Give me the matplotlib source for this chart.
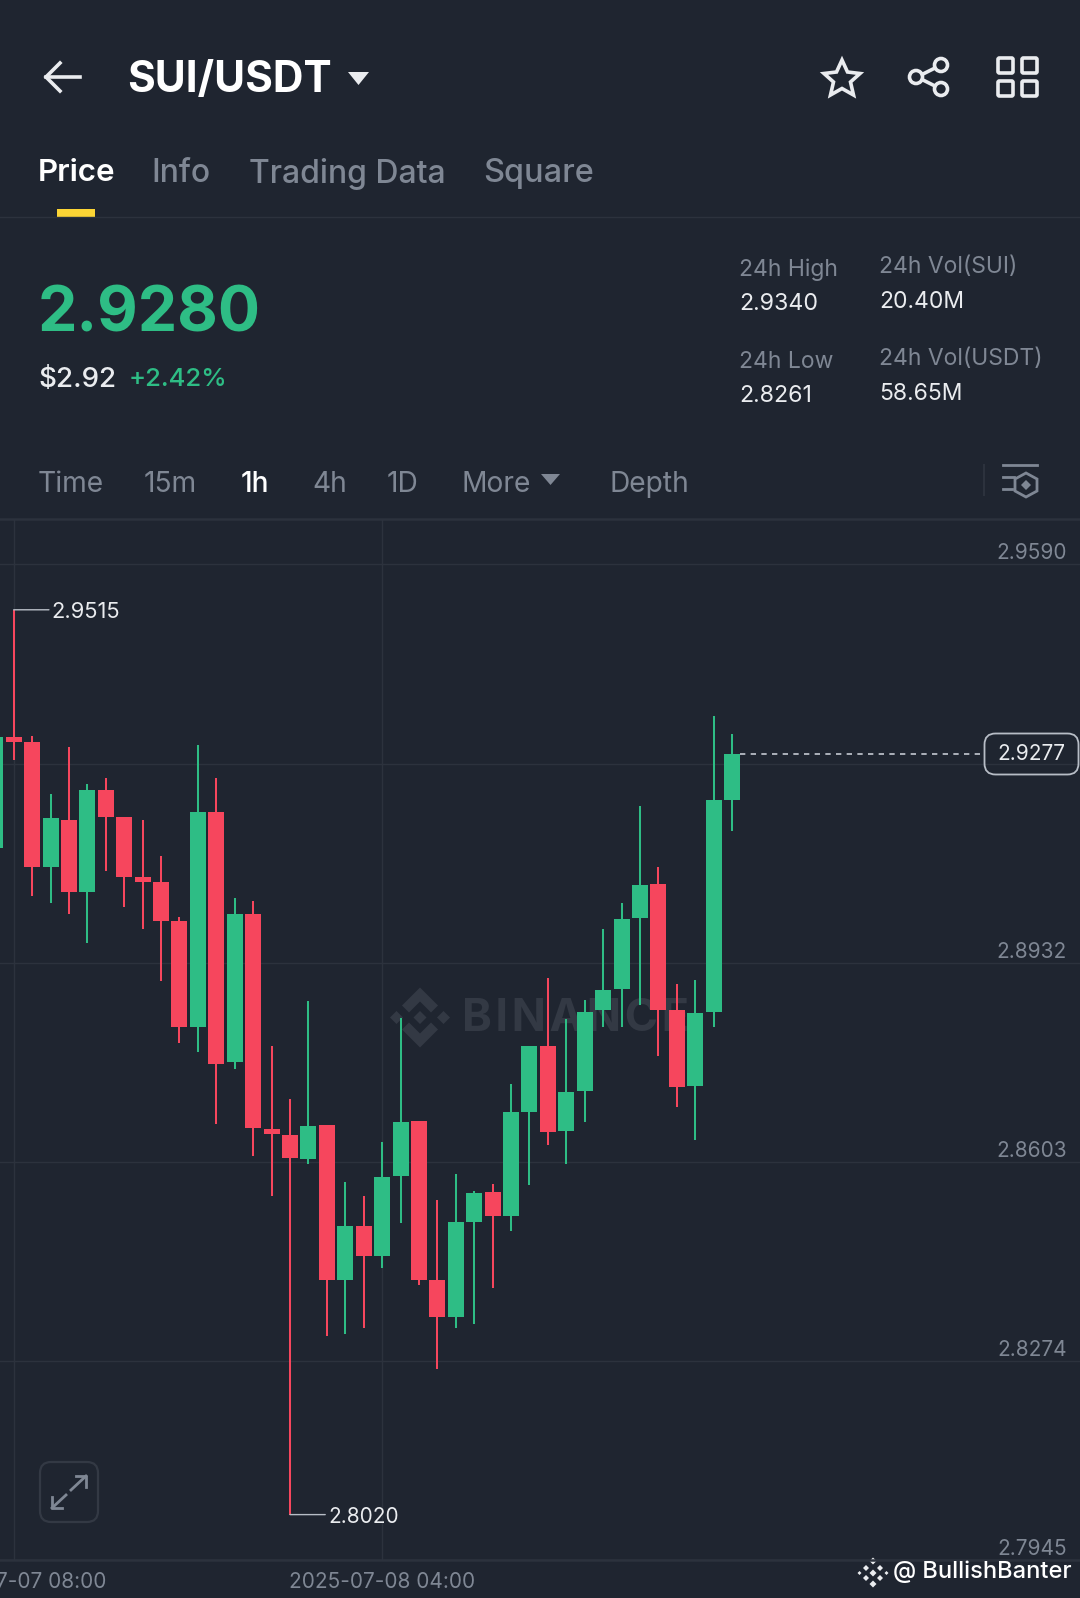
import matplotlib
matplotlib.use("Agg")
import matplotlib.pyplot as plt
from matplotlib.patches import FancyBboxPatch, Polygon, Circle, Rectangle

plt.rcParams['font.family'] = ['Inter', 'DejaVu Sans']

BG = '#1f2530'
GRID = '#2c323d'
GREEN = '#2ebd85'
RED = '#f6465d'
GREY = '#7f8794'
WHITE = '#eaecef'
MARK = '#333944'

# candle values (first candle is cut by the left edge)
opens = [2.9122, 2.9304, 2.9297, 2.9090, 2.9167, 2.9049, 2.9217, 2.9172, 2.9073, 2.9065, 2.9000,
         2.8826, 2.9181, 2.8767, 2.9013, 2.8657, 2.8648, 2.8608, 2.8663, 2.8408, 2.8497, 2.8447,
         2.8580, 2.8670, 2.8408, 2.8347, 2.8504, 2.8553, 2.8514, 2.8685, 2.8794, 2.8653, 2.8720,
         2.8854, 2.8889, 2.9006, 2.9062, 2.8853, 2.8728, 2.8850, 2.9200]
highs = [2.9310, 2.9515, 2.9307, 2.9211, 2.9288, 2.9227, 2.9237, 2.9172, 2.9167, 2.9108, 2.9007,
         2.9292, 2.9237, 2.9039, 2.9034, 2.8794, 2.8707, 2.8869, 2.8663, 2.8569, 2.8546, 2.8636,
         2.8841, 2.8670, 2.8540, 2.8583, 2.8554, 2.8567, 2.8731, 2.8794, 2.8907, 2.8839, 2.8870,
         2.8988, 2.9031, 2.9190, 2.9090, 2.8897, 2.8904, 2.9340, 2.9310]
lows = [2.9100, 2.9266, 2.9042, 2.9031, 2.9013, 2.8965, 2.9083, 2.9024, 2.8987, 2.8901, 2.8800,
        2.8785, 2.8666, 2.8757, 2.8613, 2.8546, 2.8020, 2.8599, 2.8315, 2.8319, 2.8329, 2.8428,
        2.8502, 2.8400, 2.8260, 2.8328, 2.8335, 2.8395, 2.8489, 2.8564, 2.8630, 2.8599, 2.8668,
        2.8826, 2.8825, 2.8862, 2.8777, 2.8693, 2.8639, 2.8826, 2.9150]
closes = [2.9304, 2.9297, 2.9090, 2.9171, 2.9049, 2.9218, 2.9173, 2.9074, 2.9065, 2.9000, 2.8826,
          2.9181, 2.8765, 2.9013, 2.8659, 2.8649, 2.8609, 2.8662, 2.8408, 2.8497, 2.8447, 2.8578,
          2.8669, 2.8407, 2.8347, 2.8504, 2.8552, 2.8513, 2.8685, 2.8794, 2.8652, 2.8719, 2.8851,
          2.8887, 2.9004, 2.9061, 2.8854, 2.8727, 2.8848, 2.9200, 2.9277]

grid_prices = [2.9590, 2.9261, 2.8932, 2.8603, 2.8274, 2.7945]
price_labels = ['2.9590', '', '2.8932', '2.8603', '2.8274', '2.7945']
date_ticks = [1, 21]
date_labels = ['2025-07-07 08:00', '2025-07-08 04:00']
last_price = 2.9277
max_price = 2.9515
min_price = 2.8020

W, H = 1080, 1598
fig = plt.figure(figsize=(W / 100, H / 100), dpi=100, facecolor=BG)

# chart area
ax = fig.add_axes([0, (H - 1560) / H, 1, (1560 - 519) / H], facecolor=BG)
ax.set_xlim(0.256, 58.888)
ax.set_ylim(2.7945, 2.9665)
for s in ax.spines.values():
    s.set_visible(False)
ax.set_yticks(grid_prices)
ax.set_xticks(date_ticks)
ax.tick_params(length=0, labelleft=False, labelbottom=False)
ax.grid(True, color=GRID, lw=1.0)
ax.set_axisbelow(True)

# overlay in pixel coordinates for the app screen around the chart
ui = fig.add_axes([0, 0, 1, 1], facecolor='none')
ui.set_xlim(0, W)
ui.set_ylim(H, 0)
ui.axis('off')

# watermark behind the candles
ax.text(462, 1019, 'B\u200aI\u200aN\u200aA\u200aN\u200aC\u200aE', transform=ui.transData, color=MARK,
        fontsize=32.5, fontweight='bold', va='center', ha='left', zorder=0.5)
lx, ly = 420, 1017.5
logo_parts = [
    [[0, -6.5], [6.5, 0], [0, 6.5], [-6.5, 0]],
    [[-23.5, -6.5], [-17, 0], [-23.5, 6.5], [-30, 0]],
    [[23.5, -6.5], [30, 0], [23.5, 6.5], [17, 0]],
    [[0, -30], [18, -12], [11, -5], [0, -16], [-11, -5], [-18, -12]],
    [[0, 30], [18, 12], [11, 5], [0, 16], [-11, 5], [-18, 12]],
]
for part in logo_parts:
    ax.add_patch(Polygon([[lx + a, ly + b] for a, b in part], transform=ui.transData, fc=MARK, ec='none', zorder=0.5))

for i in range(len(opens)):
    col = GREEN if closes[i] >= opens[i] else RED
    ax.vlines(i, lows[i], highs[i], color=col, lw=1.45, zorder=3)
    ax.bar(i, abs(closes[i] - opens[i]), bottom=min(opens[i], closes[i]), width=0.87, color=col, zorder=3)

for p, lab in zip(grid_prices, price_labels):
    ax.annotate(lab, (1, p), xycoords=('axes fraction', 'data'), xytext=(-13, 1), textcoords='offset pixels',
                ha='right', va='bottom', color=GREY, fontsize=15, annotation_clip=False)
for t, lab in zip(date_ticks, date_labels):
    ax.annotate(lab, (t, 2.7945), xytext=(0, -22), textcoords='offset pixels', ha='center', va='center',
                color=GREY, fontsize=15, annotation_clip=False)

# high / low callouts
imax = highs.index(max_price)
imin = lows.index(min_price)
ax.annotate(f'{max_price:.4f}', (imax, max_price), xytext=(38, -2), textcoords='offset pixels', va='center',
            color=WHITE, fontsize=15.8, arrowprops=dict(arrowstyle='-', color='#b7bdc6', lw=1, shrinkA=0, shrinkB=0,
                                                        relpos=(0, 0.6)))
ax.annotate(f'{min_price:.4f}', (imin, min_price), xytext=(38, -2), textcoords='offset pixels', va='center',
            color=WHITE, fontsize=15, arrowprops=dict(arrowstyle='-', color='#b7bdc6', lw=1, shrinkA=0, shrinkB=0,
                                                      relpos=(0, 0.6)))

# last price line and tag
ax.plot([len(opens) - 1 + 0.45, 53.68], [last_price, last_price], color='#c4c9d1', lw=1.2, ls=(0, (3.2, 3.2)), zorder=2)
ax.annotate(f'{last_price:.4f}', (1, last_price), xycoords=('axes fraction', 'data'), xytext=(-49, 0),
            textcoords='offset pixels', ha='center', va='center', color=WHITE, fontsize=15, zorder=6,
            annotation_clip=False)


def label(x, y, s, color=GREY, size=17, weight='normal', ha='left'):
    ui.text(x, y, s, color=color, fontsize=size, fontweight=weight, ha=ha, va='center_baseline')


def round_box(x0, y0, x1, y1, r, ec, lw=2.0, fc='none', z=5):
    ui.add_patch(FancyBboxPatch((x0 + r, y0 + r), x1 - x0 - 2 * r, y1 - y0 - 2 * r,
                                boxstyle=f'round,pad={r}', ec=ec, fc=fc, lw=lw, zorder=z))


# header
ui.plot([46, 80], [77, 77], color=WHITE, lw=2.6)
ui.plot([60, 46, 60], [63, 77, 91], color=WHITE, lw=2.6, solid_joinstyle='miter')
label(127, 76, 'SUI/USDT', 'white', 30.5, 'bold')
ui.add_patch(Polygon([[348, 72], [369, 72], [358.5, 85]], fc=WHITE, ec='none'))

star = [[842, 60], [847.5, 72], [860, 73.5], [850.5, 82], [853.5, 95], [842, 88.5], [830.5, 95], [833.5, 82], [824, 73.5], [836.5, 72]]
ui.add_patch(Polygon(star, fc='none', ec=WHITE, lw=2.6))
ui.plot([939, 917, 939], [66, 77, 88], color=WHITE, lw=2.6)
for cx, cy in [(941, 65), (916, 77), (941, 89)]:
    ui.add_patch(Circle((cx, cy), 6.5, fc=BG, ec=WHITE, lw=2.6, zorder=4))
for x0, y0 in [(998, 58), (1022, 58), (998, 81), (1022, 81)]:
    round_box(x0, y0, x0 + 15, y0 + 15, 1.5, WHITE, lw=2.6)

# tabs
label(38, 170, 'Price', 'white', 22.6, 'semibold')
label(151, 170, 'Info', GREY, 23, 'medium')
label(249, 170, 'Trading Data', GREY, 23, 'medium')
label(483, 170, 'Square', GREY, 23.4, 'medium')
ui.add_patch(Rectangle((57, 209), 38, 7.5, fc='#fcd535', ec='none'))
ui.plot([0, W], [217, 217], color=GRID, lw=1)

# price block
label(38, 308, '2.9280', GREEN, 45, 'bold')
label(38, 377, '$2.92', WHITE, 20, 'medium')
label(129, 377, '+2.42%', GREEN, 18.5, 'medium')

label(739, 267, '24h High', GREY, 16.5)
label(739, 302, '2.9340', WHITE, 16.7)
label(739, 359, '24h Low', GREY, 16.5)
label(739, 394, '2.8261', WHITE, 16.7)
label(879, 265, '24h Vol(SUI)', GREY, 16.5)
label(879, 300, '20.40M', WHITE, 16.5)
label(879, 356, '24h Vol(USDT)', GREY, 16.5)
label(879, 392, '58.65M', WHITE, 16.5)

# interval row
for x, s in [(38, 'Time'), (144, '15m'), (312, '4h'), (387, '1D'), (462, 'More'), (609, 'Depth')]:
    label(x, 481, s, GREY, 20.3)
label(241, 481, '1h', 'white', 20.3, 'medium')
ui.add_patch(Polygon([[541, 474], [560, 474], [550.5, 485]], fc=GREY, ec='none'))
ui.plot([983.5, 983.5], [465, 495], color=GRID, lw=1.5)
ui.plot([1003, 1037], [465, 465], color=GREY, lw=2)
ui.plot([1003, 1014], [477, 477], color=GREY, lw=2)
ui.plot([1003, 1012], [489, 489], color=GREY, lw=2)
hexagon = [[1026, 473], [1037, 479], [1037, 491], [1026, 497], [1015, 491], [1015, 479]]
ui.add_patch(Polygon(hexagon, fc='none', ec=GREY, lw=2))
ui.add_patch(Polygon([[1026, 480], [1031, 485], [1026, 490], [1021, 485]], fc=GREY, ec='none'))
ui.plot([0, W], [518.5, 518.5], color=GRID, lw=1.8)
ui.plot([0, W], [1560, 1560], color=GRID, lw=1.8)

# last price tag box
round_box(984.5, 733.5, 1078.5, 774.5, 11, '#b7bdc6', lw=1.3)

# expand button
round_box(40, 1462, 98, 1522, 11, '#333944', lw=1.6)
ui.plot([71, 86], [1490, 1476], color=GREY, lw=2)
ui.plot([76, 86, 86], [1476, 1476, 1487], color=GREY, lw=2)
ui.plot([52, 66], [1508, 1495], color=GREY, lw=2)
ui.plot([52, 52, 62], [1497, 1508, 1508], color=GREY, lw=2)

# post watermark, bottom right
for cx, cy, r in [(873, 1561, 3.5), (866, 1568, 3), (880, 1568, 3), (859.5, 1573, 2), (886.5, 1573, 2), (873, 1573, 3.5),
                  (866, 1578, 3), (880, 1578, 3), (873, 1584, 3.5)]:
    ui.add_patch(Polygon([[cx, cy - r], [cx + r, cy], [cx, cy + r], [cx - r, cy]], fc=WHITE, ec='none'))
ui.text(893, 1572, '@ BullishBanter', color='white', fontsize=17, fontweight='medium', ha='left', va='center')

fig.savefig('out.png', dpi=100, facecolor=BG)
